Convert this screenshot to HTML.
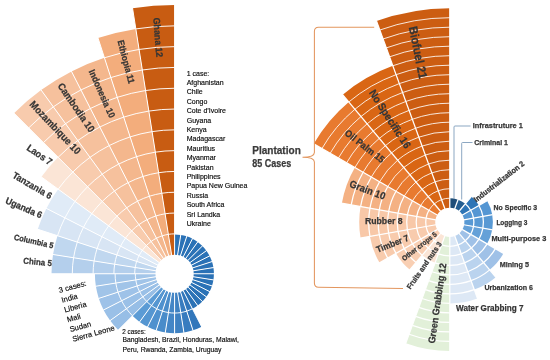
<!DOCTYPE html>
<html><head><meta charset="utf-8"><title>Chart</title><style>html,body{margin:0;padding:0;background:#fff}svg{display:block}</style></head><body>
<svg width="550" height="360" viewBox="0 0 550 360" font-family="'Liberation Sans', sans-serif">
<rect width="550" height="360" fill="#fff"/>
<path d="M174.60 254.65L174.60 234.45A39.30 39.30 0 0 1 180.75 234.93L177.59 254.89A19.10 19.10 0 0 0 174.60 254.65Z" fill="#2B72B6"/>
<path d="M177.59 254.89L180.75 234.93A39.30 39.30 0 0 1 186.74 236.37L180.50 255.58A19.10 19.10 0 0 0 177.59 254.89Z" fill="#2B72B6"/>
<path d="M180.50 255.58L186.74 236.37A39.30 39.30 0 0 1 192.44 238.73L183.27 256.73A19.10 19.10 0 0 0 180.50 255.58Z" fill="#2B72B6"/>
<path d="M183.27 256.73L192.44 238.73A39.30 39.30 0 0 1 197.70 241.96L185.83 258.30A19.10 19.10 0 0 0 183.27 256.73Z" fill="#2B72B6"/>
<path d="M185.83 258.30L197.70 241.96A39.30 39.30 0 0 1 202.39 245.96L188.11 260.24A19.10 19.10 0 0 0 185.83 258.30Z" fill="#2B72B6"/>
<path d="M188.11 260.24L202.39 245.96A39.30 39.30 0 0 1 206.39 250.65L190.05 262.52A19.10 19.10 0 0 0 188.11 260.24Z" fill="#2B72B6"/>
<path d="M190.05 262.52L206.39 250.65A39.30 39.30 0 0 1 209.62 255.91L191.62 265.08A19.10 19.10 0 0 0 190.05 262.52Z" fill="#2B72B6"/>
<path d="M191.62 265.08L209.62 255.91A39.30 39.30 0 0 1 211.98 261.61L192.77 267.85A19.10 19.10 0 0 0 191.62 265.08Z" fill="#2B72B6"/>
<path d="M192.77 267.85L211.98 261.61A39.30 39.30 0 0 1 213.42 267.60L193.46 270.76A19.10 19.10 0 0 0 192.77 267.85Z" fill="#2B72B6"/>
<path d="M193.46 270.76L213.42 267.60A39.30 39.30 0 0 1 213.90 273.75L193.70 273.75A19.10 19.10 0 0 0 193.46 270.76Z" fill="#2B72B6"/>
<path d="M193.70 273.75L213.90 273.75A39.30 39.30 0 0 1 213.42 279.90L193.46 276.74A19.10 19.10 0 0 0 193.70 273.75Z" fill="#2B72B6"/>
<path d="M193.46 276.74L213.42 279.90A39.30 39.30 0 0 1 211.98 285.89L192.77 279.65A19.10 19.10 0 0 0 193.46 276.74Z" fill="#2B72B6"/>
<path d="M192.77 279.65L211.98 285.89A39.30 39.30 0 0 1 209.62 291.59L191.62 282.42A19.10 19.10 0 0 0 192.77 279.65Z" fill="#2B72B6"/>
<path d="M191.62 282.42L209.62 291.59A39.30 39.30 0 0 1 206.39 296.85L190.05 284.98A19.10 19.10 0 0 0 191.62 282.42Z" fill="#2B72B6"/>
<path d="M190.05 284.98L206.39 296.85A39.30 39.30 0 0 1 202.39 301.54L188.11 287.26A19.10 19.10 0 0 0 190.05 284.98Z" fill="#2B72B6"/>
<path d="M188.11 287.26L202.39 301.54A39.30 39.30 0 0 1 197.70 305.54L185.83 289.20A19.10 19.10 0 0 0 188.11 287.26Z" fill="#2B72B6"/>
<path d="M185.83 289.20L197.70 305.54A39.30 39.30 0 0 1 192.44 308.77L183.27 290.77A19.10 19.10 0 0 0 185.83 289.20Z" fill="#2B72B6"/>
<path d="M183.27 290.77L201.61 326.76A59.50 59.50 0 0 1 192.99 330.34L180.50 291.92A19.10 19.10 0 0 0 183.27 290.77Z" fill="#3277BB"/>
<path d="M180.50 291.92L192.99 330.34A59.50 59.50 0 0 1 183.91 332.52L177.59 292.61A19.10 19.10 0 0 0 180.50 291.92Z" fill="#387CBF"/>
<path d="M177.59 292.61L183.91 332.52A59.50 59.50 0 0 1 174.60 333.25L174.60 292.85A19.10 19.10 0 0 0 177.59 292.61Z" fill="#3E81C2"/>
<path d="M174.60 292.85L174.60 333.25A59.50 59.50 0 0 1 165.29 332.52L171.61 292.61A19.10 19.10 0 0 0 174.60 292.85Z" fill="#4486C6"/>
<path d="M171.61 292.61L165.29 332.52A59.50 59.50 0 0 1 156.21 330.34L168.70 291.92A19.10 19.10 0 0 0 171.61 292.61Z" fill="#498CCA"/>
<path d="M168.70 291.92L156.21 330.34A59.50 59.50 0 0 1 147.59 326.76L165.93 290.77A19.10 19.10 0 0 0 168.70 291.92Z" fill="#4F91CE"/>
<path d="M165.93 290.77L147.59 326.76A59.50 59.50 0 0 1 139.63 321.89L163.37 289.20A19.10 19.10 0 0 0 165.93 290.77Z" fill="#5596D1"/>
<path d="M163.37 289.20L139.63 321.89A59.50 59.50 0 0 1 132.53 315.82L161.09 287.26A19.10 19.10 0 0 0 163.37 289.20Z" fill="#5B9BD5"/>
<path d="M161.09 287.26L118.24 330.11A79.70 79.70 0 0 1 110.12 320.60L159.15 284.98A19.10 19.10 0 0 0 161.09 287.26Z" fill="#97BEE6"/>
<path d="M159.15 284.98L110.12 320.60A79.70 79.70 0 0 1 103.59 309.93L157.58 282.42A19.10 19.10 0 0 0 159.15 284.98Z" fill="#9AC0E7"/>
<path d="M157.58 282.42L103.59 309.93A79.70 79.70 0 0 1 98.80 298.38L156.43 279.65A19.10 19.10 0 0 0 157.58 282.42Z" fill="#9EC2E8"/>
<path d="M156.43 279.65L98.80 298.38A79.70 79.70 0 0 1 95.88 286.22L155.74 276.74A19.10 19.10 0 0 0 156.43 279.65Z" fill="#A1C4E8"/>
<path d="M155.74 276.74L95.88 286.22A79.70 79.70 0 0 1 94.90 273.75L155.50 273.75A19.10 19.10 0 0 0 155.74 276.74Z" fill="#A4C6E9"/>
<path d="M155.50 273.75L51.50 273.75A123.10 123.10 0 0 1 53.02 254.49L155.74 270.76A19.10 19.10 0 0 0 155.50 273.75Z" fill="#B4CFEC"/>
<path d="M155.74 270.76L53.02 254.49A123.10 123.10 0 0 1 57.52 235.71L156.43 267.85A19.10 19.10 0 0 0 155.74 270.76Z" fill="#C0D7EF"/>
<path d="M156.43 267.85L37.74 229.28A143.90 143.90 0 0 1 46.38 208.42L157.58 265.08A19.10 19.10 0 0 0 156.43 267.85Z" fill="#D8E5F4"/>
<path d="M157.58 265.08L46.38 208.42A143.90 143.90 0 0 1 58.18 189.17L159.15 262.52A19.10 19.10 0 0 0 157.58 265.08Z" fill="#E0EBF7"/>
<path d="M159.15 262.52L41.35 176.94A164.70 164.70 0 0 1 58.14 157.29L161.09 260.24A19.10 19.10 0 0 0 159.15 262.52Z" fill="#FBE5D6"/>
<path d="M161.09 260.24L14.02 113.17A227.10 227.10 0 0 1 41.11 90.02L163.37 258.30A19.10 19.10 0 0 0 161.09 260.24Z" fill="#F8CBAD"/>
<path d="M163.37 258.30L41.11 90.02A227.10 227.10 0 0 1 71.50 71.40L165.93 256.73A19.10 19.10 0 0 0 163.37 258.30Z" fill="#F6C19D"/>
<path d="M165.93 256.73L71.50 71.40A227.10 227.10 0 0 1 104.42 57.77L168.70 255.58A19.10 19.10 0 0 0 165.93 256.73Z" fill="#F4B78D"/>
<path d="M168.70 255.58L97.99 37.98A247.90 247.90 0 0 1 135.82 28.90L171.61 254.89A19.10 19.10 0 0 0 168.70 255.58Z" fill="#F3AD7C"/>
<path d="M171.61 254.89L132.57 8.36A268.70 268.70 0 0 1 174.60 5.05L174.60 254.65A19.10 19.10 0 0 0 171.61 254.89Z" fill="#C85C12"/>
<path d="M192.44 308.77A39.30 39.30 0 0 1 186.74 311.13" fill="none" stroke="#fff" stroke-width="0.95"/>
<path d="M186.74 311.13A39.30 39.30 0 0 1 180.75 312.57" fill="none" stroke="#fff" stroke-width="0.95"/>
<path d="M180.75 312.57A39.30 39.30 0 0 1 174.60 313.05" fill="none" stroke="#fff" stroke-width="0.95"/>
<path d="M174.60 313.05A39.30 39.30 0 0 1 168.45 312.57" fill="none" stroke="#fff" stroke-width="0.95"/>
<path d="M168.45 312.57A39.30 39.30 0 0 1 162.46 311.13" fill="none" stroke="#fff" stroke-width="0.95"/>
<path d="M162.46 311.13A39.30 39.30 0 0 1 156.76 308.77" fill="none" stroke="#fff" stroke-width="0.95"/>
<path d="M156.76 308.77A39.30 39.30 0 0 1 151.50 305.54" fill="none" stroke="#fff" stroke-width="0.95"/>
<path d="M151.50 305.54A39.30 39.30 0 0 1 146.81 301.54" fill="none" stroke="#fff" stroke-width="0.95"/>
<path d="M146.81 301.54A39.30 39.30 0 0 1 142.81 296.85" fill="none" stroke="#fff" stroke-width="0.95"/>
<path d="M132.53 315.82A59.50 59.50 0 0 1 126.46 308.72" fill="none" stroke="#fff" stroke-width="0.95"/>
<path d="M142.81 296.85A39.30 39.30 0 0 1 139.58 291.59" fill="none" stroke="#fff" stroke-width="0.95"/>
<path d="M126.46 308.72A59.50 59.50 0 0 1 121.59 300.76" fill="none" stroke="#fff" stroke-width="0.95"/>
<path d="M139.58 291.59A39.30 39.30 0 0 1 137.22 285.89" fill="none" stroke="#fff" stroke-width="0.95"/>
<path d="M121.59 300.76A59.50 59.50 0 0 1 118.01 292.14" fill="none" stroke="#fff" stroke-width="0.95"/>
<path d="M137.22 285.89A39.30 39.30 0 0 1 135.78 279.90" fill="none" stroke="#fff" stroke-width="0.95"/>
<path d="M118.01 292.14A59.50 59.50 0 0 1 115.83 283.06" fill="none" stroke="#fff" stroke-width="0.95"/>
<path d="M135.78 279.90A39.30 39.30 0 0 1 135.30 273.75" fill="none" stroke="#fff" stroke-width="0.95"/>
<path d="M115.83 283.06A59.50 59.50 0 0 1 115.10 273.75" fill="none" stroke="#fff" stroke-width="0.95"/>
<path d="M134.70 273.75A39.90 39.90 0 0 1 135.19 267.51" fill="none" stroke="#fff" stroke-width="0.95"/>
<path d="M113.90 273.75A60.70 60.70 0 0 1 114.65 264.25" fill="none" stroke="#fff" stroke-width="0.95"/>
<path d="M93.10 273.75A81.50 81.50 0 0 1 94.10 261.00" fill="none" stroke="#fff" stroke-width="0.95"/>
<path d="M72.30 273.75A102.30 102.30 0 0 1 73.56 257.75" fill="none" stroke="#fff" stroke-width="0.95"/>
<path d="M135.19 267.51A39.90 39.90 0 0 1 136.65 261.42" fill="none" stroke="#fff" stroke-width="0.95"/>
<path d="M114.65 264.25A60.70 60.70 0 0 1 116.87 254.99" fill="none" stroke="#fff" stroke-width="0.95"/>
<path d="M94.10 261.00A81.50 81.50 0 0 1 97.09 248.57" fill="none" stroke="#fff" stroke-width="0.95"/>
<path d="M73.56 257.75A102.30 102.30 0 0 1 77.31 242.14" fill="none" stroke="#fff" stroke-width="0.95"/>
<path d="M136.65 261.42A39.90 39.90 0 0 1 139.05 255.64" fill="none" stroke="#fff" stroke-width="0.95"/>
<path d="M116.87 254.99A60.70 60.70 0 0 1 120.52 246.19" fill="none" stroke="#fff" stroke-width="0.95"/>
<path d="M97.09 248.57A81.50 81.50 0 0 1 101.98 236.75" fill="none" stroke="#fff" stroke-width="0.95"/>
<path d="M77.31 242.14A102.30 102.30 0 0 1 83.45 227.31" fill="none" stroke="#fff" stroke-width="0.95"/>
<path d="M57.52 235.71A123.10 123.10 0 0 1 64.92 217.86" fill="none" stroke="#fff" stroke-width="0.95"/>
<path d="M139.05 255.64A39.90 39.90 0 0 1 142.32 250.30" fill="none" stroke="#fff" stroke-width="0.95"/>
<path d="M120.52 246.19A60.70 60.70 0 0 1 125.49 238.07" fill="none" stroke="#fff" stroke-width="0.95"/>
<path d="M101.98 236.75A81.50 81.50 0 0 1 108.67 225.85" fill="none" stroke="#fff" stroke-width="0.95"/>
<path d="M83.45 227.31A102.30 102.30 0 0 1 91.84 213.62" fill="none" stroke="#fff" stroke-width="0.95"/>
<path d="M64.92 217.86A123.10 123.10 0 0 1 75.01 201.39" fill="none" stroke="#fff" stroke-width="0.95"/>
<path d="M142.32 250.30A39.90 39.90 0 0 1 146.39 245.54" fill="none" stroke="#fff" stroke-width="0.95"/>
<path d="M125.49 238.07A60.70 60.70 0 0 1 131.68 230.83" fill="none" stroke="#fff" stroke-width="0.95"/>
<path d="M108.67 225.85A81.50 81.50 0 0 1 116.97 216.12" fill="none" stroke="#fff" stroke-width="0.95"/>
<path d="M91.84 213.62A102.30 102.30 0 0 1 102.26 201.41" fill="none" stroke="#fff" stroke-width="0.95"/>
<path d="M75.01 201.39A123.10 123.10 0 0 1 87.56 186.71" fill="none" stroke="#fff" stroke-width="0.95"/>
<path d="M58.18 189.17A143.90 143.90 0 0 1 72.85 172.00" fill="none" stroke="#fff" stroke-width="0.95"/>
<path d="M146.39 245.54A39.90 39.90 0 0 1 151.15 241.47" fill="none" stroke="#fff" stroke-width="0.95"/>
<path d="M131.68 230.83A60.70 60.70 0 0 1 138.92 224.64" fill="none" stroke="#fff" stroke-width="0.95"/>
<path d="M116.97 216.12A81.50 81.50 0 0 1 126.70 207.82" fill="none" stroke="#fff" stroke-width="0.95"/>
<path d="M102.26 201.41A102.30 102.30 0 0 1 114.47 190.99" fill="none" stroke="#fff" stroke-width="0.95"/>
<path d="M87.56 186.71A123.10 123.10 0 0 1 102.24 174.16" fill="none" stroke="#fff" stroke-width="0.95"/>
<path d="M72.85 172.00A143.90 143.90 0 0 1 90.02 157.33" fill="none" stroke="#fff" stroke-width="0.95"/>
<path d="M58.14 157.29A164.70 164.70 0 0 1 77.79 140.50" fill="none" stroke="#fff" stroke-width="0.95"/>
<path d="M43.43 142.58A185.50 185.50 0 0 1 65.57 123.68" fill="none" stroke="#fff" stroke-width="0.95"/>
<path d="M28.72 127.87A206.30 206.30 0 0 1 53.34 106.85" fill="none" stroke="#fff" stroke-width="0.95"/>
<path d="M151.15 241.47A39.90 39.90 0 0 1 156.49 238.20" fill="none" stroke="#fff" stroke-width="0.95"/>
<path d="M138.92 224.64A60.70 60.70 0 0 1 147.04 219.67" fill="none" stroke="#fff" stroke-width="0.95"/>
<path d="M126.70 207.82A81.50 81.50 0 0 1 137.60 201.13" fill="none" stroke="#fff" stroke-width="0.95"/>
<path d="M114.47 190.99A102.30 102.30 0 0 1 128.16 182.60" fill="none" stroke="#fff" stroke-width="0.95"/>
<path d="M102.24 174.16A123.10 123.10 0 0 1 118.71 164.07" fill="none" stroke="#fff" stroke-width="0.95"/>
<path d="M90.02 157.33A143.90 143.90 0 0 1 109.27 145.53" fill="none" stroke="#fff" stroke-width="0.95"/>
<path d="M77.79 140.50A164.70 164.70 0 0 1 99.83 127.00" fill="none" stroke="#fff" stroke-width="0.95"/>
<path d="M65.57 123.68A185.50 185.50 0 0 1 90.38 108.47" fill="none" stroke="#fff" stroke-width="0.95"/>
<path d="M53.34 106.85A206.30 206.30 0 0 1 80.94 89.94" fill="none" stroke="#fff" stroke-width="0.95"/>
<path d="M156.49 238.20A39.90 39.90 0 0 1 162.27 235.80" fill="none" stroke="#fff" stroke-width="0.95"/>
<path d="M147.04 219.67A60.70 60.70 0 0 1 155.84 216.02" fill="none" stroke="#fff" stroke-width="0.95"/>
<path d="M137.60 201.13A81.50 81.50 0 0 1 149.42 196.24" fill="none" stroke="#fff" stroke-width="0.95"/>
<path d="M128.16 182.60A102.30 102.30 0 0 1 142.99 176.46" fill="none" stroke="#fff" stroke-width="0.95"/>
<path d="M118.71 164.07A123.10 123.10 0 0 1 136.56 156.67" fill="none" stroke="#fff" stroke-width="0.95"/>
<path d="M109.27 145.53A143.90 143.90 0 0 1 130.13 136.89" fill="none" stroke="#fff" stroke-width="0.95"/>
<path d="M99.83 127.00A164.70 164.70 0 0 1 123.70 117.11" fill="none" stroke="#fff" stroke-width="0.95"/>
<path d="M90.38 108.47A185.50 185.50 0 0 1 117.28 97.33" fill="none" stroke="#fff" stroke-width="0.95"/>
<path d="M80.94 89.94A206.30 206.30 0 0 1 110.85 77.55" fill="none" stroke="#fff" stroke-width="0.95"/>
<path d="M162.27 235.80A39.90 39.90 0 0 1 168.36 234.34" fill="none" stroke="#fff" stroke-width="0.95"/>
<path d="M155.84 216.02A60.70 60.70 0 0 1 165.10 213.80" fill="none" stroke="#fff" stroke-width="0.95"/>
<path d="M149.42 196.24A81.50 81.50 0 0 1 161.85 193.25" fill="none" stroke="#fff" stroke-width="0.95"/>
<path d="M142.99 176.46A102.30 102.30 0 0 1 158.60 172.71" fill="none" stroke="#fff" stroke-width="0.95"/>
<path d="M136.56 156.67A123.10 123.10 0 0 1 155.34 152.17" fill="none" stroke="#fff" stroke-width="0.95"/>
<path d="M130.13 136.89A143.90 143.90 0 0 1 152.09 131.62" fill="none" stroke="#fff" stroke-width="0.95"/>
<path d="M123.70 117.11A164.70 164.70 0 0 1 148.84 111.08" fill="none" stroke="#fff" stroke-width="0.95"/>
<path d="M117.28 97.33A185.50 185.50 0 0 1 145.58 90.53" fill="none" stroke="#fff" stroke-width="0.95"/>
<path d="M110.85 77.55A206.30 206.30 0 0 1 142.33 69.99" fill="none" stroke="#fff" stroke-width="0.95"/>
<path d="M104.42 57.77A227.10 227.10 0 0 1 139.07 49.45" fill="none" stroke="#fff" stroke-width="0.95"/>
<path d="M168.36 234.34A39.90 39.90 0 0 1 174.60 233.85" fill="none" stroke="#fff" stroke-width="0.95"/>
<path d="M165.10 213.80A60.70 60.70 0 0 1 174.60 213.05" fill="none" stroke="#fff" stroke-width="0.95"/>
<path d="M161.85 193.25A81.50 81.50 0 0 1 174.60 192.25" fill="none" stroke="#fff" stroke-width="0.95"/>
<path d="M158.60 172.71A102.30 102.30 0 0 1 174.60 171.45" fill="none" stroke="#fff" stroke-width="0.95"/>
<path d="M155.34 152.17A123.10 123.10 0 0 1 174.60 150.65" fill="none" stroke="#fff" stroke-width="0.95"/>
<path d="M152.09 131.62A143.90 143.90 0 0 1 174.60 129.85" fill="none" stroke="#fff" stroke-width="0.95"/>
<path d="M148.84 111.08A164.70 164.70 0 0 1 174.60 109.05" fill="none" stroke="#fff" stroke-width="0.95"/>
<path d="M145.58 90.53A185.50 185.50 0 0 1 174.60 88.25" fill="none" stroke="#fff" stroke-width="0.95"/>
<path d="M142.33 69.99A206.30 206.30 0 0 1 174.60 67.45" fill="none" stroke="#fff" stroke-width="0.95"/>
<path d="M139.07 49.45A227.10 227.10 0 0 1 174.60 46.65" fill="none" stroke="#fff" stroke-width="0.95"/>
<path d="M135.82 28.90A247.90 247.90 0 0 1 174.60 25.85" fill="none" stroke="#fff" stroke-width="0.95"/>
<path d="M174.60 255.15L174.60 4.55" stroke="#fff" stroke-width="1.0"/>
<path d="M177.51 255.38L180.83 234.44" stroke="#fff" stroke-width="1.0"/>
<path d="M180.35 256.06L186.90 235.90" stroke="#fff" stroke-width="1.0"/>
<path d="M183.04 257.18L192.67 238.29" stroke="#fff" stroke-width="1.0"/>
<path d="M185.53 258.70L197.99 241.55" stroke="#fff" stroke-width="1.0"/>
<path d="M187.75 260.60L202.74 245.61" stroke="#fff" stroke-width="1.0"/>
<path d="M189.65 262.82L206.80 250.36" stroke="#fff" stroke-width="1.0"/>
<path d="M191.17 265.31L210.06 255.68" stroke="#fff" stroke-width="1.0"/>
<path d="M192.29 268.00L212.45 261.45" stroke="#fff" stroke-width="1.0"/>
<path d="M192.97 270.84L213.91 267.52" stroke="#fff" stroke-width="1.0"/>
<path d="M193.20 273.75L214.40 273.75" stroke="#fff" stroke-width="1.0"/>
<path d="M192.97 276.66L213.91 279.98" stroke="#fff" stroke-width="1.0"/>
<path d="M192.29 279.50L212.45 286.05" stroke="#fff" stroke-width="1.0"/>
<path d="M191.17 282.19L210.06 291.82" stroke="#fff" stroke-width="1.0"/>
<path d="M189.65 284.68L206.80 297.14" stroke="#fff" stroke-width="1.0"/>
<path d="M187.75 286.90L202.74 301.89" stroke="#fff" stroke-width="1.0"/>
<path d="M185.53 288.80L197.99 305.95" stroke="#fff" stroke-width="1.0"/>
<path d="M183.04 290.32L201.84 327.21" stroke="#fff" stroke-width="1.0"/>
<path d="M180.35 291.44L193.14 330.81" stroke="#fff" stroke-width="1.0"/>
<path d="M177.51 292.12L183.99 333.01" stroke="#fff" stroke-width="1.0"/>
<path d="M174.60 292.35L174.60 333.75" stroke="#fff" stroke-width="1.0"/>
<path d="M171.69 292.12L165.21 333.01" stroke="#fff" stroke-width="1.0"/>
<path d="M168.85 291.44L156.06 330.81" stroke="#fff" stroke-width="1.0"/>
<path d="M166.16 290.32L147.36 327.21" stroke="#fff" stroke-width="1.0"/>
<path d="M163.67 288.80L139.33 322.29" stroke="#fff" stroke-width="1.0"/>
<path d="M161.45 286.90L117.89 330.46" stroke="#fff" stroke-width="1.0"/>
<path d="M159.55 284.68L109.72 320.89" stroke="#fff" stroke-width="1.0"/>
<path d="M158.03 282.19L103.14 310.16" stroke="#fff" stroke-width="1.0"/>
<path d="M156.91 279.50L98.33 298.53" stroke="#fff" stroke-width="1.0"/>
<path d="M156.23 276.66L95.39 286.30" stroke="#fff" stroke-width="1.0"/>
<path d="M156.00 273.75L51.00 273.75" stroke="#fff" stroke-width="1.0"/>
<path d="M156.23 270.84L52.52 254.41" stroke="#fff" stroke-width="1.0"/>
<path d="M156.91 268.00L37.27 229.13" stroke="#fff" stroke-width="1.0"/>
<path d="M158.03 265.31L45.94 208.19" stroke="#fff" stroke-width="1.0"/>
<path d="M159.55 262.82L40.95 176.65" stroke="#fff" stroke-width="1.0"/>
<path d="M161.45 260.60L13.66 112.81" stroke="#fff" stroke-width="1.0"/>
<path d="M163.67 258.70L40.82 89.62" stroke="#fff" stroke-width="1.0"/>
<path d="M166.16 257.18L71.27 70.96" stroke="#fff" stroke-width="1.0"/>
<path d="M168.85 256.06L97.84 37.51" stroke="#fff" stroke-width="1.0"/>
<path d="M171.69 255.38L132.49 7.86" stroke="#fff" stroke-width="1.0"/>
<path d="M449.80 207.70L449.80 198.20A24.10 24.10 0 0 1 458.04 199.65L454.79 208.58A14.60 14.60 0 0 0 449.80 207.70Z" fill="#1F4E79"/>
<path d="M454.79 208.58L458.04 199.65A24.10 24.10 0 0 1 465.29 203.84L459.18 211.12A14.60 14.60 0 0 0 454.79 208.58Z" fill="#255E91"/>
<path d="M459.18 211.12L471.40 196.56A33.60 33.60 0 0 1 478.90 205.50L462.44 215.00A14.60 14.60 0 0 0 459.18 211.12Z" fill="#2E75B6"/>
<path d="M462.44 215.00L487.13 200.75A43.10 43.10 0 0 1 492.25 214.82L464.18 219.76A14.60 14.60 0 0 0 462.44 215.00Z" fill="#5496D3"/>
<path d="M464.18 219.76L492.25 214.82A43.10 43.10 0 0 1 492.25 229.78L464.18 224.84A14.60 14.60 0 0 0 464.18 219.76Z" fill="#5899D4"/>
<path d="M464.18 224.84L492.25 229.78A43.10 43.10 0 0 1 487.13 243.85L462.44 229.60A14.60 14.60 0 0 0 464.18 224.84Z" fill="#65A1D8"/>
<path d="M462.44 229.60L503.58 253.35A62.10 62.10 0 0 1 489.72 269.87L459.18 233.48A14.60 14.60 0 0 0 462.44 229.60Z" fill="#9FC1E7"/>
<path d="M459.18 233.48L495.82 277.15A71.60 71.60 0 0 1 474.29 289.58L454.79 236.02A14.60 14.60 0 0 0 459.18 233.48Z" fill="#BAD3EE"/>
<path d="M454.79 236.02L477.54 298.51A81.10 81.10 0 0 1 449.80 303.40L449.80 236.90A14.60 14.60 0 0 0 454.79 236.02Z" fill="#DDE8F5"/>
<path d="M449.80 236.90L449.80 350.90A128.60 128.60 0 0 1 405.82 343.14L444.81 236.02A14.60 14.60 0 0 0 449.80 236.90Z" fill="#E2F0D9"/>
<path d="M444.81 236.02L435.06 262.80A43.10 43.10 0 0 1 422.10 255.32L440.42 233.48A14.60 14.60 0 0 0 444.81 236.02Z" fill="#FBE5D6"/>
<path d="M440.42 233.48L409.88 269.87A62.10 62.10 0 0 1 396.02 253.35L437.16 229.60A14.60 14.60 0 0 0 440.42 233.48Z" fill="#F9CFB3"/>
<path d="M437.16 229.60L379.57 262.85A81.10 81.10 0 0 1 369.93 236.38L435.42 224.84A14.60 14.60 0 0 0 437.16 229.60Z" fill="#F8CBAD"/>
<path d="M435.42 224.84L360.58 238.03A90.60 90.60 0 0 1 360.58 206.57L435.42 219.76A14.60 14.60 0 0 0 435.42 224.84Z" fill="#F8C8A8"/>
<path d="M435.42 219.76L341.87 203.27A109.60 109.60 0 0 1 354.88 167.50L437.16 215.00A14.60 14.60 0 0 0 435.42 219.76Z" fill="#F4B183"/>
<path d="M437.16 215.00L313.75 143.75A157.10 157.10 0 0 1 348.82 101.95L440.42 211.12A14.60 14.60 0 0 0 437.16 215.00Z" fill="#E87A2F"/>
<path d="M440.42 211.12L342.71 94.68A166.60 166.60 0 0 1 392.82 65.75L444.81 208.58A14.60 14.60 0 0 0 440.42 211.12Z" fill="#D96614"/>
<path d="M444.81 208.58L376.57 21.11A214.10 214.10 0 0 1 449.80 8.20L449.80 207.70A14.60 14.60 0 0 0 444.81 208.58Z" fill="#CC5D12"/>
<path d="M465.29 203.84A24.10 24.10 0 0 1 470.67 210.25" fill="none" stroke="#fff" stroke-width="1.25"/>
<path d="M470.67 210.25A24.10 24.10 0 0 1 473.53 218.12" fill="none" stroke="#fff" stroke-width="1.25"/>
<path d="M478.90 205.50A33.60 33.60 0 0 1 482.89 216.47" fill="none" stroke="#fff" stroke-width="1.25"/>
<path d="M473.53 218.12A24.10 24.10 0 0 1 473.53 226.48" fill="none" stroke="#fff" stroke-width="1.25"/>
<path d="M482.89 216.47A33.60 33.60 0 0 1 482.89 228.13" fill="none" stroke="#fff" stroke-width="1.25"/>
<path d="M473.53 226.48A24.10 24.10 0 0 1 470.67 234.35" fill="none" stroke="#fff" stroke-width="1.25"/>
<path d="M482.89 228.13A33.60 33.60 0 0 1 478.90 239.10" fill="none" stroke="#fff" stroke-width="1.25"/>
<path d="M470.67 234.35A24.10 24.10 0 0 1 465.29 240.76" fill="none" stroke="#fff" stroke-width="1.25"/>
<path d="M478.90 239.10A33.60 33.60 0 0 1 471.40 248.04" fill="none" stroke="#fff" stroke-width="1.25"/>
<path d="M487.13 243.85A43.10 43.10 0 0 1 477.50 255.32" fill="none" stroke="#fff" stroke-width="1.25"/>
<path d="M495.35 248.60A52.60 52.60 0 0 1 483.61 262.59" fill="none" stroke="#fff" stroke-width="1.25"/>
<path d="M465.29 240.76A24.10 24.10 0 0 1 458.04 244.95" fill="none" stroke="#fff" stroke-width="1.25"/>
<path d="M471.40 248.04A33.60 33.60 0 0 1 461.29 253.87" fill="none" stroke="#fff" stroke-width="1.25"/>
<path d="M477.50 255.32A43.10 43.10 0 0 1 464.54 262.80" fill="none" stroke="#fff" stroke-width="1.25"/>
<path d="M483.61 262.59A52.60 52.60 0 0 1 467.79 271.73" fill="none" stroke="#fff" stroke-width="1.25"/>
<path d="M489.72 269.87A62.10 62.10 0 0 1 471.04 280.65" fill="none" stroke="#fff" stroke-width="1.25"/>
<path d="M458.04 244.95A24.10 24.10 0 0 1 449.80 246.40" fill="none" stroke="#fff" stroke-width="1.25"/>
<path d="M461.29 253.87A33.60 33.60 0 0 1 449.80 255.90" fill="none" stroke="#fff" stroke-width="1.25"/>
<path d="M464.54 262.80A43.10 43.10 0 0 1 449.80 265.40" fill="none" stroke="#fff" stroke-width="1.25"/>
<path d="M467.79 271.73A52.60 52.60 0 0 1 449.80 274.90" fill="none" stroke="#fff" stroke-width="1.25"/>
<path d="M471.04 280.65A62.10 62.10 0 0 1 449.80 284.40" fill="none" stroke="#fff" stroke-width="1.25"/>
<path d="M474.29 289.58A71.60 71.60 0 0 1 449.80 293.90" fill="none" stroke="#fff" stroke-width="1.25"/>
<path d="M449.80 246.40A24.10 24.10 0 0 1 441.56 244.95" fill="none" stroke="#fff" stroke-width="1.25"/>
<path d="M449.80 255.90A33.60 33.60 0 0 1 438.31 253.87" fill="none" stroke="#fff" stroke-width="1.25"/>
<path d="M449.80 265.40A43.10 43.10 0 0 1 435.06 262.80" fill="none" stroke="#fff" stroke-width="1.25"/>
<path d="M449.80 274.90A52.60 52.60 0 0 1 431.81 271.73" fill="none" stroke="#fff" stroke-width="1.25"/>
<path d="M449.80 284.40A62.10 62.10 0 0 1 428.56 280.65" fill="none" stroke="#fff" stroke-width="1.25"/>
<path d="M449.80 293.90A71.60 71.60 0 0 1 425.31 289.58" fill="none" stroke="#fff" stroke-width="1.25"/>
<path d="M449.80 303.40A81.10 81.10 0 0 1 422.06 298.51" fill="none" stroke="#fff" stroke-width="1.25"/>
<path d="M449.80 312.90A90.60 90.60 0 0 1 418.81 307.44" fill="none" stroke="#fff" stroke-width="1.25"/>
<path d="M449.80 322.40A100.10 100.10 0 0 1 415.56 316.36" fill="none" stroke="#fff" stroke-width="1.25"/>
<path d="M449.80 331.90A109.60 109.60 0 0 1 412.31 325.29" fill="none" stroke="#fff" stroke-width="1.25"/>
<path d="M449.80 341.40A119.10 119.10 0 0 1 409.07 334.22" fill="none" stroke="#fff" stroke-width="1.25"/>
<path d="M441.56 244.95A24.10 24.10 0 0 1 434.31 240.76" fill="none" stroke="#fff" stroke-width="1.25"/>
<path d="M438.31 253.87A33.60 33.60 0 0 1 428.20 248.04" fill="none" stroke="#fff" stroke-width="1.25"/>
<path d="M434.31 240.76A24.10 24.10 0 0 1 428.93 234.35" fill="none" stroke="#fff" stroke-width="1.25"/>
<path d="M428.20 248.04A33.60 33.60 0 0 1 420.70 239.10" fill="none" stroke="#fff" stroke-width="1.25"/>
<path d="M422.10 255.32A43.10 43.10 0 0 1 412.47 243.85" fill="none" stroke="#fff" stroke-width="1.25"/>
<path d="M415.99 262.59A52.60 52.60 0 0 1 404.25 248.60" fill="none" stroke="#fff" stroke-width="1.25"/>
<path d="M428.93 234.35A24.10 24.10 0 0 1 426.07 226.48" fill="none" stroke="#fff" stroke-width="1.25"/>
<path d="M420.70 239.10A33.60 33.60 0 0 1 416.71 228.13" fill="none" stroke="#fff" stroke-width="1.25"/>
<path d="M412.47 243.85A43.10 43.10 0 0 1 407.35 229.78" fill="none" stroke="#fff" stroke-width="1.25"/>
<path d="M404.25 248.60A52.60 52.60 0 0 1 398.00 231.43" fill="none" stroke="#fff" stroke-width="1.25"/>
<path d="M396.02 253.35A62.10 62.10 0 0 1 388.64 233.08" fill="none" stroke="#fff" stroke-width="1.25"/>
<path d="M387.79 258.10A71.60 71.60 0 0 1 379.29 234.73" fill="none" stroke="#fff" stroke-width="1.25"/>
<path d="M426.07 226.48A24.10 24.10 0 0 1 426.07 218.12" fill="none" stroke="#fff" stroke-width="1.25"/>
<path d="M416.71 228.13A33.60 33.60 0 0 1 416.71 216.47" fill="none" stroke="#fff" stroke-width="1.25"/>
<path d="M407.35 229.78A43.10 43.10 0 0 1 407.35 214.82" fill="none" stroke="#fff" stroke-width="1.25"/>
<path d="M398.00 231.43A52.60 52.60 0 0 1 398.00 213.17" fill="none" stroke="#fff" stroke-width="1.25"/>
<path d="M388.64 233.08A62.10 62.10 0 0 1 388.64 211.52" fill="none" stroke="#fff" stroke-width="1.25"/>
<path d="M379.29 234.73A71.60 71.60 0 0 1 379.29 209.87" fill="none" stroke="#fff" stroke-width="1.25"/>
<path d="M369.93 236.38A81.10 81.10 0 0 1 369.93 208.22" fill="none" stroke="#fff" stroke-width="1.25"/>
<path d="M426.07 218.12A24.10 24.10 0 0 1 428.93 210.25" fill="none" stroke="#fff" stroke-width="1.25"/>
<path d="M416.71 216.47A33.60 33.60 0 0 1 420.70 205.50" fill="none" stroke="#fff" stroke-width="1.25"/>
<path d="M407.35 214.82A43.10 43.10 0 0 1 412.47 200.75" fill="none" stroke="#fff" stroke-width="1.25"/>
<path d="M398.00 213.17A52.60 52.60 0 0 1 404.25 196.00" fill="none" stroke="#fff" stroke-width="1.25"/>
<path d="M388.64 211.52A62.10 62.10 0 0 1 396.02 191.25" fill="none" stroke="#fff" stroke-width="1.25"/>
<path d="M379.29 209.87A71.60 71.60 0 0 1 387.79 186.50" fill="none" stroke="#fff" stroke-width="1.25"/>
<path d="M369.93 208.22A81.10 81.10 0 0 1 379.57 181.75" fill="none" stroke="#fff" stroke-width="1.25"/>
<path d="M360.58 206.57A90.60 90.60 0 0 1 371.34 177.00" fill="none" stroke="#fff" stroke-width="1.25"/>
<path d="M351.22 204.92A100.10 100.10 0 0 1 363.11 172.25" fill="none" stroke="#fff" stroke-width="1.25"/>
<path d="M428.93 210.25A24.10 24.10 0 0 1 434.31 203.84" fill="none" stroke="#fff" stroke-width="0.85"/>
<path d="M420.70 205.50A33.60 33.60 0 0 1 428.20 196.56" fill="none" stroke="#fff" stroke-width="0.85"/>
<path d="M412.47 200.75A43.10 43.10 0 0 1 422.10 189.28" fill="none" stroke="#fff" stroke-width="0.85"/>
<path d="M404.25 196.00A52.60 52.60 0 0 1 415.99 182.01" fill="none" stroke="#fff" stroke-width="0.85"/>
<path d="M396.02 191.25A62.10 62.10 0 0 1 409.88 174.73" fill="none" stroke="#fff" stroke-width="0.85"/>
<path d="M387.79 186.50A71.60 71.60 0 0 1 403.78 167.45" fill="none" stroke="#fff" stroke-width="0.85"/>
<path d="M379.57 181.75A81.10 81.10 0 0 1 397.67 160.17" fill="none" stroke="#fff" stroke-width="0.85"/>
<path d="M371.34 177.00A90.60 90.60 0 0 1 391.56 152.90" fill="none" stroke="#fff" stroke-width="0.85"/>
<path d="M363.11 172.25A100.10 100.10 0 0 1 385.46 145.62" fill="none" stroke="#fff" stroke-width="0.85"/>
<path d="M354.88 167.50A109.60 109.60 0 0 1 379.35 138.34" fill="none" stroke="#fff" stroke-width="0.85"/>
<path d="M346.66 162.75A119.10 119.10 0 0 1 373.24 131.06" fill="none" stroke="#fff" stroke-width="0.85"/>
<path d="M338.43 158.00A128.60 128.60 0 0 1 367.14 123.79" fill="none" stroke="#fff" stroke-width="0.85"/>
<path d="M330.20 153.25A138.10 138.10 0 0 1 361.03 116.51" fill="none" stroke="#fff" stroke-width="0.85"/>
<path d="M321.97 148.50A147.60 147.60 0 0 1 354.92 109.23" fill="none" stroke="#fff" stroke-width="0.85"/>
<path d="M434.31 203.84A24.10 24.10 0 0 1 441.56 199.65" fill="none" stroke="#fff" stroke-width="0.85"/>
<path d="M428.20 196.56A33.60 33.60 0 0 1 438.31 190.73" fill="none" stroke="#fff" stroke-width="0.85"/>
<path d="M422.10 189.28A43.10 43.10 0 0 1 435.06 181.80" fill="none" stroke="#fff" stroke-width="0.85"/>
<path d="M415.99 182.01A52.60 52.60 0 0 1 431.81 172.87" fill="none" stroke="#fff" stroke-width="0.85"/>
<path d="M409.88 174.73A62.10 62.10 0 0 1 428.56 163.95" fill="none" stroke="#fff" stroke-width="0.85"/>
<path d="M403.78 167.45A71.60 71.60 0 0 1 425.31 155.02" fill="none" stroke="#fff" stroke-width="0.85"/>
<path d="M397.67 160.17A81.10 81.10 0 0 1 422.06 146.09" fill="none" stroke="#fff" stroke-width="0.85"/>
<path d="M391.56 152.90A90.60 90.60 0 0 1 418.81 137.16" fill="none" stroke="#fff" stroke-width="0.85"/>
<path d="M385.46 145.62A100.10 100.10 0 0 1 415.56 128.24" fill="none" stroke="#fff" stroke-width="0.85"/>
<path d="M379.35 138.34A109.60 109.60 0 0 1 412.31 119.31" fill="none" stroke="#fff" stroke-width="0.85"/>
<path d="M373.24 131.06A119.10 119.10 0 0 1 409.07 110.38" fill="none" stroke="#fff" stroke-width="0.85"/>
<path d="M367.14 123.79A128.60 128.60 0 0 1 405.82 101.46" fill="none" stroke="#fff" stroke-width="0.85"/>
<path d="M361.03 116.51A138.10 138.10 0 0 1 402.57 92.53" fill="none" stroke="#fff" stroke-width="0.85"/>
<path d="M354.92 109.23A147.60 147.60 0 0 1 399.32 83.60" fill="none" stroke="#fff" stroke-width="0.85"/>
<path d="M348.82 101.95A157.10 157.10 0 0 1 396.07 74.67" fill="none" stroke="#fff" stroke-width="0.85"/>
<path d="M441.56 199.65A24.10 24.10 0 0 1 449.80 198.20" fill="none" stroke="#fff" stroke-width="0.85"/>
<path d="M438.31 190.73A33.60 33.60 0 0 1 449.80 188.70" fill="none" stroke="#fff" stroke-width="0.85"/>
<path d="M435.06 181.80A43.10 43.10 0 0 1 449.80 179.20" fill="none" stroke="#fff" stroke-width="0.85"/>
<path d="M431.81 172.87A52.60 52.60 0 0 1 449.80 169.70" fill="none" stroke="#fff" stroke-width="0.85"/>
<path d="M428.56 163.95A62.10 62.10 0 0 1 449.80 160.20" fill="none" stroke="#fff" stroke-width="0.85"/>
<path d="M425.31 155.02A71.60 71.60 0 0 1 449.80 150.70" fill="none" stroke="#fff" stroke-width="0.85"/>
<path d="M422.06 146.09A81.10 81.10 0 0 1 449.80 141.20" fill="none" stroke="#fff" stroke-width="0.85"/>
<path d="M418.81 137.16A90.60 90.60 0 0 1 449.80 131.70" fill="none" stroke="#fff" stroke-width="0.85"/>
<path d="M415.56 128.24A100.10 100.10 0 0 1 449.80 122.20" fill="none" stroke="#fff" stroke-width="0.85"/>
<path d="M412.31 119.31A109.60 109.60 0 0 1 449.80 112.70" fill="none" stroke="#fff" stroke-width="0.85"/>
<path d="M409.07 110.38A119.10 119.10 0 0 1 449.80 103.20" fill="none" stroke="#fff" stroke-width="0.85"/>
<path d="M405.82 101.46A128.60 128.60 0 0 1 449.80 93.70" fill="none" stroke="#fff" stroke-width="0.85"/>
<path d="M402.57 92.53A138.10 138.10 0 0 1 449.80 84.20" fill="none" stroke="#fff" stroke-width="0.85"/>
<path d="M399.32 83.60A147.60 147.60 0 0 1 449.80 74.70" fill="none" stroke="#fff" stroke-width="0.85"/>
<path d="M396.07 74.67A157.10 157.10 0 0 1 449.80 65.20" fill="none" stroke="#fff" stroke-width="0.85"/>
<path d="M392.82 65.75A166.60 166.60 0 0 1 449.80 55.70" fill="none" stroke="#fff" stroke-width="0.85"/>
<path d="M389.57 56.82A176.10 176.10 0 0 1 449.80 46.20" fill="none" stroke="#fff" stroke-width="0.85"/>
<path d="M386.32 47.89A185.60 185.60 0 0 1 449.80 36.70" fill="none" stroke="#fff" stroke-width="0.85"/>
<path d="M383.07 38.97A195.10 195.10 0 0 1 449.80 27.20" fill="none" stroke="#fff" stroke-width="0.85"/>
<path d="M379.82 30.04A204.60 204.60 0 0 1 449.80 17.70" fill="none" stroke="#fff" stroke-width="0.85"/>
<path d="M449.80 208.20L449.80 7.70" stroke="#fff" stroke-width="1.25"/>
<path d="M454.62 209.05L458.21 199.18" stroke="#fff" stroke-width="1.25"/>
<path d="M458.86 211.50L471.72 196.18" stroke="#fff" stroke-width="1.25"/>
<path d="M462.01 215.25L487.56 200.50" stroke="#fff" stroke-width="1.25"/>
<path d="M463.69 219.85L492.74 214.73" stroke="#fff" stroke-width="1.25"/>
<path d="M463.69 224.75L492.74 229.87" stroke="#fff" stroke-width="1.25"/>
<path d="M462.01 229.35L504.01 253.60" stroke="#fff" stroke-width="1.25"/>
<path d="M458.86 233.10L496.14 277.53" stroke="#fff" stroke-width="1.25"/>
<path d="M454.62 235.55L477.71 298.98" stroke="#fff" stroke-width="1.25"/>
<path d="M449.80 236.40L449.80 351.40" stroke="#fff" stroke-width="1.25"/>
<path d="M444.98 235.55L405.65 343.61" stroke="#fff" stroke-width="1.25"/>
<path d="M440.74 233.10L409.56 270.25" stroke="#fff" stroke-width="1.25"/>
<path d="M437.59 229.35L379.13 263.10" stroke="#fff" stroke-width="1.25"/>
<path d="M435.91 224.75L360.08 238.12" stroke="#fff" stroke-width="1.25"/>
<path d="M435.91 219.85L341.37 203.18" stroke="#fff" stroke-width="1.25"/>
<path d="M437.59 215.25L313.31 143.50" stroke="#fff" stroke-width="1.25"/>
<path d="M440.74 211.50L342.39 94.29" stroke="#fff" stroke-width="1.25"/>
<path d="M444.98 209.05L376.40 20.64" stroke="#fff" stroke-width="1.25"/>
<path d="M374.2 27.2H318.5Q314.4 27.2 314.4 31.5V152.5Q314.4 157.2 302.5 157.2Q314.4 157.2 314.4 162V283Q314.4 287.2 318.5 287.3L403 288.6" fill="none" stroke="#E3965E" stroke-width="1.05"/>
<path d="M470.5 126H455Q454 126 454 127V198.5" fill="none" stroke="#86A2BF" stroke-width="0.95"/>
<path d="M472.5 142.5H462.5Q461.7 142.5 461.7 143.3V199.5" fill="none" stroke="#86A2BF" stroke-width="0.95"/>
<text transform="translate(158.0 37.5) rotate(85.5)" text-anchor="middle" dy="0.34em" font-size="9.56" font-weight="bold" fill="#353535" stroke="#353535" stroke-width="0.25" textLength="39.5" lengthAdjust="spacingAndGlyphs">Ghana 12</text>
<text transform="translate(126.1 61.8) rotate(75.5)" text-anchor="middle" dy="0.34em" font-size="9.17" font-weight="bold" fill="#353535" stroke="#353535" stroke-width="0.25" textLength="44.4" lengthAdjust="spacingAndGlyphs">Ethiopia 11</text>
<text transform="translate(102.0 93.7) rotate(66.1)" text-anchor="middle" dy="0.34em" font-size="9.34" font-weight="bold" fill="#353535" stroke="#353535" stroke-width="0.25" textLength="51.9" lengthAdjust="spacingAndGlyphs">Indonesia 10</text>
<text transform="translate(76.2 107.5) rotate(55.3)" text-anchor="middle" dy="0.34em" font-size="10.0" font-weight="bold" fill="#353535" stroke="#353535" stroke-width="0.25" textLength="57.1" lengthAdjust="spacingAndGlyphs">Cambodia 10</text>
<text transform="translate(55.2 127.5) rotate(46.5)" text-anchor="middle" dy="0.34em" font-size="10.1" font-weight="bold" fill="#353535" stroke="#353535" stroke-width="0.25" textLength="69.0" lengthAdjust="spacingAndGlyphs">Mozambique 10</text>
<text transform="translate(39.6 154.7) rotate(34.3)" text-anchor="middle" dy="0.34em" font-size="9.84" font-weight="bold" fill="#353535" stroke="#353535" stroke-width="0.25" textLength="28.6" lengthAdjust="spacingAndGlyphs">Laos 7</text>
<text transform="translate(32.4 185.5) rotate(30.3)" text-anchor="middle" dy="0.34em" font-size="9.54" font-weight="bold" fill="#353535" stroke="#353535" stroke-width="0.25" textLength="44.1" lengthAdjust="spacingAndGlyphs">Tanzania 6</text>
<text transform="translate(23.9 207.8) rotate(23.7)" text-anchor="middle" dy="0.34em" font-size="9.42" font-weight="bold" fill="#353535" stroke="#353535" stroke-width="0.25" textLength="38.9" lengthAdjust="spacingAndGlyphs">Uganda 6</text>
<text transform="translate(33.7 241.3) rotate(12.5)" text-anchor="middle" dy="0.34em" font-size="8.15" font-weight="bold" fill="#353535" stroke="#353535" stroke-width="0.25" textLength="40.3" lengthAdjust="spacingAndGlyphs">Columbia 5</text>
<text transform="translate(37.6 262.0) rotate(5.5)" text-anchor="middle" dy="0.34em" font-size="8.63" font-weight="bold" fill="#353535" stroke="#353535" stroke-width="0.25" textLength="28.6" lengthAdjust="spacingAndGlyphs">China 5</text>
<text x="186.7" y="73.3" dy="0.34em" font-size="7.0" fill="#0a0a0a" stroke="#0a0a0a" stroke-width="0.15">1 case:</text>
<text x="186.7" y="82.7" dy="0.34em" font-size="7.0" fill="#0a0a0a" stroke="#0a0a0a" stroke-width="0.15">Afghanistan</text>
<text x="186.7" y="92.1" dy="0.34em" font-size="7.0" fill="#0a0a0a" stroke="#0a0a0a" stroke-width="0.15">Chile</text>
<text x="186.7" y="101.5" dy="0.34em" font-size="7.0" fill="#0a0a0a" stroke="#0a0a0a" stroke-width="0.15">Congo</text>
<text x="186.7" y="110.9" dy="0.34em" font-size="7.0" fill="#0a0a0a" stroke="#0a0a0a" stroke-width="0.15">Cote d’Ivoire</text>
<text x="186.7" y="120.3" dy="0.34em" font-size="7.0" fill="#0a0a0a" stroke="#0a0a0a" stroke-width="0.15">Guyana</text>
<text x="186.7" y="129.7" dy="0.34em" font-size="7.0" fill="#0a0a0a" stroke="#0a0a0a" stroke-width="0.15">Kenya</text>
<text x="186.7" y="139.1" dy="0.34em" font-size="7.0" fill="#0a0a0a" stroke="#0a0a0a" stroke-width="0.15">Madagascar</text>
<text x="186.7" y="148.5" dy="0.34em" font-size="7.0" fill="#0a0a0a" stroke="#0a0a0a" stroke-width="0.15">Mauritius</text>
<text x="186.7" y="157.9" dy="0.34em" font-size="7.0" fill="#0a0a0a" stroke="#0a0a0a" stroke-width="0.15">Myanmar</text>
<text x="186.7" y="167.3" dy="0.34em" font-size="7.0" fill="#0a0a0a" stroke="#0a0a0a" stroke-width="0.15">Pakistan</text>
<text x="186.7" y="176.7" dy="0.34em" font-size="7.0" fill="#0a0a0a" stroke="#0a0a0a" stroke-width="0.15">Philippines</text>
<text x="186.7" y="186.1" dy="0.34em" font-size="7.0" fill="#0a0a0a" stroke="#0a0a0a" stroke-width="0.15">Papua New Guinea</text>
<text x="186.7" y="195.5" dy="0.34em" font-size="7.0" fill="#0a0a0a" stroke="#0a0a0a" stroke-width="0.15">Russia</text>
<text x="186.7" y="204.9" dy="0.34em" font-size="7.0" fill="#0a0a0a" stroke="#0a0a0a" stroke-width="0.15">South Africa</text>
<text x="186.7" y="214.3" dy="0.34em" font-size="7.0" fill="#0a0a0a" stroke="#0a0a0a" stroke-width="0.15">Sri Landka</text>
<text x="186.7" y="223.7" dy="0.34em" font-size="7.0" fill="#0a0a0a" stroke="#0a0a0a" stroke-width="0.15">Ukraine</text>
<g transform="translate(58.9 290.5) rotate(-15.5)">
<text x="0" y="0.0" dy="0.34em" font-size="7.6" fill="#0a0a0a" stroke="#0a0a0a" stroke-width="0.15">3 cases:</text>
<text x="0" y="10.1" dy="0.34em" font-size="7.6" fill="#0a0a0a" stroke="#0a0a0a" stroke-width="0.15">India</text>
<text x="0" y="20.3" dy="0.34em" font-size="7.6" fill="#0a0a0a" stroke="#0a0a0a" stroke-width="0.15">Liberia</text>
<text x="0" y="30.4" dy="0.34em" font-size="7.6" fill="#0a0a0a" stroke="#0a0a0a" stroke-width="0.15">Mali</text>
<text x="0" y="40.6" dy="0.34em" font-size="7.6" fill="#0a0a0a" stroke="#0a0a0a" stroke-width="0.15">Sudan</text>
<text x="0" y="50.7" dy="0.34em" font-size="7.6" fill="#0a0a0a" stroke="#0a0a0a" stroke-width="0.15">Sierra Leone</text>
</g>
<text x="122.2" y="331" dy="0.34em" font-size="7.4" fill="#0a0a0a" stroke="#0a0a0a" stroke-width="0.15" textLength="23.6" lengthAdjust="spacingAndGlyphs">2 cases:</text>
<text x="122.5" y="340" dy="0.34em" font-size="7.0" fill="#0a0a0a" stroke="#0a0a0a" stroke-width="0.15" textLength="116.5" lengthAdjust="spacingAndGlyphs">Bangladesh, Brazil, Honduras, Malawi,</text>
<text x="122.5" y="350" dy="0.34em" font-size="7.0" fill="#0a0a0a" stroke="#0a0a0a" stroke-width="0.15" textLength="99" lengthAdjust="spacingAndGlyphs">Peru, Rwanda, Zambia, Uruguay</text>
<text x="252.2" y="154" font-size="11" font-weight="bold" fill="#3a3a3a" stroke="#3a3a3a" stroke-width="0.25" textLength="48.6" lengthAdjust="spacingAndGlyphs">Plantation</text>
<text x="252.2" y="167.4" font-size="11" font-weight="bold" fill="#3a3a3a" stroke="#3a3a3a" stroke-width="0.25" textLength="39" lengthAdjust="spacingAndGlyphs">85 Cases</text>
<text x="472.8" y="125.3" dy="0.34em" font-size="8.04" font-weight="bold" fill="#353535" stroke="#353535" stroke-width="0.25" textLength="50.0" lengthAdjust="spacingAndGlyphs">Infrastruture 1</text>
<text x="474.2" y="142.0" dy="0.34em" font-size="7.62" font-weight="bold" fill="#353535" stroke="#353535" stroke-width="0.25" textLength="33.8" lengthAdjust="spacingAndGlyphs">Criminal 1</text>
<text x="493.6" y="207.2" dy="0.34em" font-size="7.57" font-weight="bold" fill="#353535" stroke="#353535" stroke-width="0.25" textLength="43.6" lengthAdjust="spacingAndGlyphs">No Specific 3</text>
<text x="496.4" y="222.8" dy="0.34em" font-size="7.1" font-weight="bold" fill="#353535" stroke="#353535" stroke-width="0.25" textLength="31.1" lengthAdjust="spacingAndGlyphs">Logging 3</text>
<text x="491.4" y="237.8" dy="0.34em" font-size="8.05" font-weight="bold" fill="#353535" stroke="#353535" stroke-width="0.25" textLength="55.0" lengthAdjust="spacingAndGlyphs">Multi-purpose 3</text>
<text x="499.7" y="264.4" dy="0.34em" font-size="7.85" font-weight="bold" fill="#353535" stroke="#353535" stroke-width="0.25" textLength="29.2" lengthAdjust="spacingAndGlyphs">Mining 5</text>
<text x="484.4" y="287.2" dy="0.34em" font-size="7.69" font-weight="bold" fill="#353535" stroke="#353535" stroke-width="0.25" textLength="48.6" lengthAdjust="spacingAndGlyphs">Urbanization 6</text>
<text x="456.0" y="307.5" dy="0.34em" font-size="8.87" font-weight="bold" fill="#353535" stroke="#353535" stroke-width="0.25" textLength="67.5" lengthAdjust="spacingAndGlyphs">Water Grabbing 7</text>
<text transform="translate(499.0 181.5) rotate(-37.7)" text-anchor="middle" dy="0.34em" font-size="7.87" font-weight="bold" fill="#353535" stroke="#353535" stroke-width="0.25" textLength="61.4" lengthAdjust="spacingAndGlyphs">Industrialization 2</text>
<text transform="translate(418.0 52.5) rotate(78.6)" text-anchor="middle" dy="0.34em" font-size="12.14" font-weight="bold" fill="#353535" stroke="#353535" stroke-width="0.25" textLength="53.2" lengthAdjust="spacingAndGlyphs">Biofuel 21</text>
<text transform="translate(390.0 119.0) rotate(57.1)" text-anchor="middle" dy="0.34em" font-size="10.75" font-weight="bold" fill="#353535" stroke="#353535" stroke-width="0.25" textLength="67.4" lengthAdjust="spacingAndGlyphs">No Specific 16</text>
<text transform="translate(364.7 146.2) rotate(37.9)" text-anchor="middle" dy="0.34em" font-size="9.54" font-weight="bold" fill="#353535" stroke="#353535" stroke-width="0.25" textLength="47.2" lengthAdjust="spacingAndGlyphs">Oil Palm 15</text>
<text transform="translate(367.5 190.0) rotate(20.9)" text-anchor="middle" dy="0.34em" font-size="10.21" font-weight="bold" fill="#353535" stroke="#353535" stroke-width="0.25" textLength="37.5" lengthAdjust="spacingAndGlyphs">Grain 10</text>
<text transform="translate(383.8 221.0) rotate(0.0)" text-anchor="middle" dy="0.34em" font-size="9.48" font-weight="bold" fill="#353535" stroke="#353535" stroke-width="0.25" textLength="37.7" lengthAdjust="spacingAndGlyphs">Rubber 8</text>
<text transform="translate(392.5 243.7) rotate(-21.9)" text-anchor="middle" dy="0.34em" font-size="8.93" font-weight="bold" fill="#353535" stroke="#353535" stroke-width="0.25" textLength="34.0" lengthAdjust="spacingAndGlyphs">Timber 7</text>
<text transform="translate(419.3 246.3) rotate(-38.0)" text-anchor="middle" dy="0.34em" font-size="7.07" font-weight="bold" fill="#353535" stroke="#353535" stroke-width="0.25" textLength="42.2" lengthAdjust="spacingAndGlyphs">Other crops 5</text>
<text transform="translate(424.2 265.5) rotate(-55.2)" text-anchor="middle" dy="0.34em" font-size="7.51" font-weight="bold" fill="#353535" stroke="#353535" stroke-width="0.25" textLength="55.5" lengthAdjust="spacingAndGlyphs">Fruits and nuts 3</text>
<text transform="translate(437.2 303.3) rotate(-81.7)" text-anchor="middle" dy="0.34em" font-size="9.8" font-weight="bold" fill="#353535" stroke="#353535" stroke-width="0.25" textLength="80.9" lengthAdjust="spacingAndGlyphs">Green Grabbing 12</text>
</svg>
</body></html>
